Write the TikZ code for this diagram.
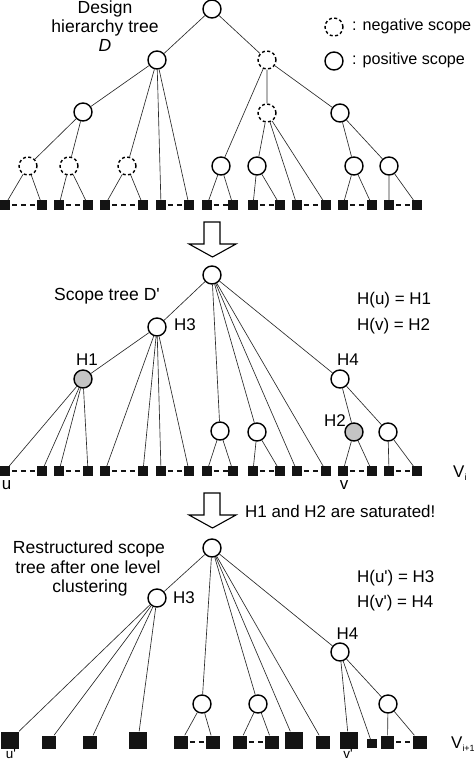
\documentclass[tikz,border=0pt]{standalone}
\usepackage{fontspec}
\setmainfont{Liberation Sans}[Ligatures=TeXOff]
\definecolor{leafblack}{HTML}{141414}
\definecolor{satgray}{HTML}{C4C4C4}
\definecolor{edgecol}{HTML}{2A2A2A}
\newcommand\smallsub[1]{\raisebox{-3bp}{\fontsize{9}{10}\selectfont #1}}
\begin{document}
\begin{tikzpicture}[x=1bp,y=-1bp,
  poscirc/.style={circle, draw=black, line width=1.4bp, minimum size=18bp, inner sep=0pt, fill=white},
  negcirc/.style={poscirc, dash pattern=on 3bp off 2.4bp},
  satcirc/.style={poscirc, fill=satgray},
  leaf/.style={rectangle, fill=leafblack, minimum size=9.5bp, inner sep=0pt},
  mleaf/.style={rectangle, fill=leafblack, minimum width=13.5bp, minimum height=13bp, inner sep=0pt},
  bleaf/.style={rectangle, fill=leafblack, minimum width=18bp, minimum height=17bp, inner sep=0pt},
  tleaf/.style={rectangle, fill=leafblack, minimum width=10bp, minimum height=9bp, inner sep=0pt},
  edge/.style={draw=edgecol, line width=0.65bp},
  pairline/.style={draw=leafblack, line width=2.6bp, dash pattern=on 5bp off 4bp, dash phase=-2bp},
  lbl/.style={font=\fontsize{17}{20}\selectfont, inner sep=0pt},
  biglbl/.style={font=\fontsize{17.6}{20}\selectfont, inner sep=0pt},
  leglbl/.style={font=\fontsize{16.2}{19}\selectfont, inner sep=0pt},
  botlbl/.style={font=\fontsize{13.5}{15}\selectfont, inner sep=0pt},
  blockarrow/.style={draw=black, line width=1.1bp, fill=white, line join=miter}
]
\useasboundingbox (0,0) rectangle (474,762);

% ---------------- texts top ----------------
\node[biglbl, anchor=base] (t1a) at (105,14) {Design};
\node[biglbl, anchor=base] (t1b) at (105,33) {hierarchy tree};
\node[biglbl, anchor=base] (t1c) at (105,52) {\itshape D};
\node[negcirc] (legneg) at (334,27) {};
\node[leglbl, anchor=base west] (legnegt) at (352,31) {: negative scope};
\node[poscirc] (legpos) at (334,61) {};
\node[leglbl, anchor=base west] (legpost) at (352,65) {: positive scope};

% ---------------- top tree ----------------
\foreach \i/\x in {1/5,2/42,3/59,4/88,5/105,6/143,7/161,8/189,9/207,10/233,11/253,12/280,13/297,14/326,15/343,16/372,17/389,18/417}{
  \node[leaf] (t\i) at (\x,205) {};
  \node[leaf] (m\i) at (\x,471) {};
}
\node[poscirc] (r) at (212,9) {};
\node[poscirc] (a) at (157,60) {};
\node[negcirc] (b) at (267,60) {};
\node[poscirc] (c) at (83,112) {};
\node[negcirc] (d) at (267,113) {};
\node[poscirc] (e) at (340,113) {};
\node[negcirc] (f) at (28,166) {};
\node[negcirc] (g) at (69,166) {};
\node[negcirc] (h) at (127,166) {};
\node[poscirc] (i) at (221,166) {};
\node[poscirc] (j) at (257,166) {};
\node[poscirc] (k) at (354,166) {};
\node[poscirc] (l) at (389,166) {};

\path[edge] (r) -- (a) (r) -- (b)
  (a) -- (c) (a) -- (h) (a) -- (t7) (a) -- (t8)
  (c) -- (f) (c) -- (g)
  (f) -- (t1) (f) -- (t2) (g) -- (t3) (g) -- (t4) (h) -- (t5) (h) -- (t6)
  (b) -- (i) (b) -- (d) (b) -- (e)
  (i) -- (t9) (i) -- (t10)
  (d) -- (j) (d) -- (t13) (d) -- (t14)
  (j) -- (t11) (j) -- (t12)
  (e) -- (k) (e) -- (l)
  (k) -- (t15) (k) -- (t16) (l) -- (t17) (l) -- (t18);
\foreach \p/\q in {1/2,3/4,5/6,7/8,9/10,11/12,13/14,15/16,17/18}{
  \path[pairline] (t\p.east) -- (t\q.west);
  \path[pairline] (m\p.east) -- (m\q.west);
}

% ---------------- arrow 1 ----------------
\draw[blockarrow] (204,222) -- (220,222) -- (220,244) -- (236,244) -- (212.5,257) -- (189,244) -- (204,244) -- cycle;

% ---------------- middle tree ----------------
\node[biglbl, anchor=base] (stx) at (107,300) {Scope tree D'};
\node[lbl, anchor=base west] (hu) at (357,304) {H(u) = H1};
\node[lbl, anchor=base west] (hv) at (357,330) {H(v) = H2};

\node[poscirc] (R2) at (212,275) {};
\node[poscirc] (H3m) at (157,327) {};
\node[satcirc] (H1m) at (83,379) {};
\node[poscirc] (H4m) at (340,379) {};
\node[poscirc] (c1) at (220,431) {};
\node[poscirc] (c2) at (257,432) {};
\node[satcirc] (H2m) at (354,432) {};
\node[poscirc] (c3) at (388,432) {};
\node[lbl, anchor=base west] (lH3m) at (174,330) {H3};
\node[lbl, anchor=base] (lH1m) at (87,365) {H1};
\node[lbl, anchor=base] (lH4m) at (348,365) {H4};
\node[lbl, anchor=base] (lH2m) at (335,426) {H2};

\path[edge] (R2) -- (H3m) (R2) -- (c1) (R2) -- (c2) (R2) -- (m13) (R2) -- (m14) (R2) -- (H4m)
  (H3m) -- (H1m) (H3m) -- (m5) (H3m) -- (m6) (H3m) -- (m7) (H3m) -- (m8)
  (H1m) -- (m1) (H1m) -- (m2) (H1m) -- (m3) (H1m) -- (m4)
  (c1) -- (m9) (c1) -- (m10) (c2) -- (m11) (c2) -- (m12)
  (H4m) -- (H2m) (H4m) -- (c3)
  (H2m) -- (m15) (H2m) -- (m16) (c3) -- (m17) (c3) -- (m18);

\node[lbl, anchor=base] (lu) at (6.5,489) {u};
\node[lbl, anchor=base] (lv) at (344,489) {v};
\node[lbl, anchor=base west] (lVi) at (453,477) {V\smallsub{i}};

% ---------------- arrow 2 ----------------
\draw[blockarrow] (204,493) -- (220,493) -- (220,515) -- (236,515) -- (212.5,528) -- (189,515) -- (204,515) -- cycle;
\node[lbl, anchor=base west] (sat) at (245,517) {H1 and H2 are saturated!};

% ---------------- bottom tree ----------------
\node[biglbl, anchor=base] (rs1) at (89,553) {Restructured scope};
\node[biglbl, anchor=base] (rs2) at (88,573) {tree after one level};
\node[biglbl, anchor=base] (rs3) at (90,592) {clustering};
\node[lbl, anchor=base west] (hu2) at (357,582) {H(u') = H3};
\node[lbl, anchor=base west] (hv2) at (357,607) {H(v') = H4};

\node[poscirc] (R3) at (212,548) {};
\node[poscirc] (H3b) at (157,598) {};
\node[poscirc] (H4b) at (340,652) {};
\node[poscirc] (d1) at (202,704) {};
\node[poscirc] (d2) at (258,704) {};
\node[poscirc] (d3) at (388,704) {};
\node[lbl, anchor=base west] (lH3b) at (173,603) {H3};
\node[lbl, anchor=base] (lH4b) at (347.5,639) {H4};

\node[bleaf] (b1) at (10,740) {};
\node[mleaf] (b2) at (49,742) {};
\node[mleaf] (b3) at (90,742) {};
\node[bleaf] (b4) at (138,740) {};
\node[mleaf] (b5) at (181,742) {};
\node[mleaf] (b6) at (213,742) {};
\node[mleaf] (b7) at (240,742) {};
\node[mleaf] (b8) at (272,742) {};
\node[bleaf] (b9) at (294,740) {};
\node[mleaf] (b10) at (323,742) {};
\node[bleaf] (b11) at (348.5,740) {};
\node[tleaf] (b12) at (372,743.5) {};
\node[mleaf] (b13) at (387.5,742) {};
\node[mleaf] (b14) at (420,742) {};

\path[edge] (R3) -- (H3b) (R3) -- (d1) (R3) -- (d2) (R3) -- (b9) (R3) -- (b10) (R3) -- (H4b)
  (H3b) -- (b1) (H3b) -- (b2) (H3b) -- (b3) (H3b) -- (b4)
  (d1) -- (b5) (d1) -- (b6) (d2) -- (b7) (d2) -- (b8)
  (H4b) -- (b11) (H4b) -- (b12) (H4b) -- (d3)
  (d3) -- (b13) (d3) -- (b14);
\path[pairline] (b5.east) -- (b6.west);
\path[pairline] (b7.east) -- (b8.west);
\path[pairline] (b13.east) -- (b14.west);

\node[botlbl, anchor=base] (lu2) at (11,758.5) {u'};
\node[botlbl, anchor=base] (lv2) at (348,758.5) {v'};
\node[lbl, anchor=base west] (lVi1) at (451,748) {V\smallsub{i+1}};
\end{tikzpicture}
\end{document}
